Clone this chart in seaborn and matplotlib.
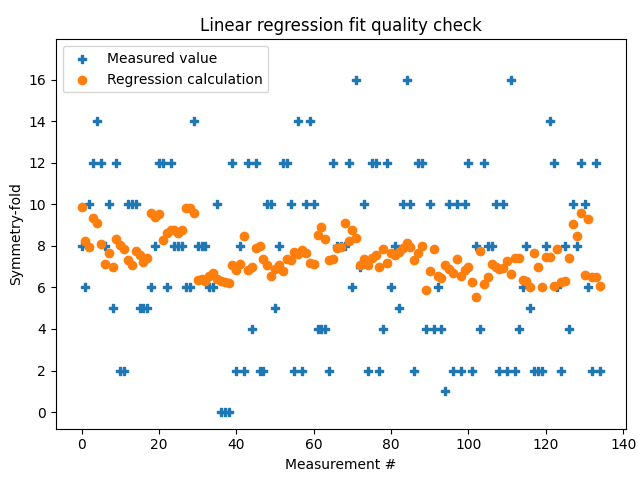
import numpy as np
import pandas as pd
import matplotlib
matplotlib.use("Agg")
import matplotlib.pyplot as plt
import seaborn as sns

# Measured symmetry-fold values, measurement 0..134
measured = [8, 6, 10, 12, 14, 12, 8, 10, 5, 12,
            2, 2, 10, 10, 10, 5, 5, 5, 6, 8,
            12, 12, 6, 12, 8, 8, 8, 6, 6, 14,
            8, 8, 8, 6, 6, 10, 0, 0, 0, 12,
            2, 8, 2, 12, 4, 12, 2, 2, 10, 10,
            5, 8, 12, 12, 10, 2, 14, 2, 10, 14,
            10, 4, 4, 4, 2, 12, 8, 8, 8, 12,
            6, 16, 7, 10, 2, 12, 12, 2, 4, 12,
            6, 8, 5, 10, 16, 10, 2, 12, 12, 4,
            10, 4, 6, 4, 1, 10, 2, 10, 2, 10,
            12, 2, 8, 4, 12, 8, 8, 10, 2, 10,
            2, 16, 2, 4, 6, 8, 5, 2, 2, 2,
            8, 14, 12, 6, 2, 8, 4, 10, 8, 12,
            10, 6, 2, 12, 2]

# Regression output for the same measurements
regression = [9.89, 8.23, 7.94, 9.33, 9.12, 8.07, 7.14, 7.67, 6.97, 8.34,
              8.04, 7.83, 7.30, 7.06, 7.75, 7.54, 7.22, 7.43, 9.60, 9.41,
              9.52, 8.31, 8.63, 8.75, 8.76, 8.63, 8.75, 9.84, 9.84, 9.60,
              6.38, 6.41, 6.30, 6.54, 6.70, 6.40, 6.30, 6.25, 6.20, 7.06,
              6.86, 7.15, 8.50, 6.86, 6.97, 7.88, 8.02, 7.39, 7.10, 6.54,
              6.90, 7.06, 6.78, 7.39, 7.30, 7.70, 7.59, 7.80, 7.67, 7.18,
              7.14, 8.55, 8.92, 8.34, 7.30, 7.39, 7.88, 7.94, 9.12, 8.23,
              8.75, 8.39, 7.06, 7.35, 7.10, 7.43, 7.54, 6.99, 7.86, 7.18,
              7.64, 7.54, 7.70, 7.91, 8.12, 7.96, 7.30, 7.67, 7.99, 5.86,
              6.81, 7.83, 6.54, 6.46, 7.06, 6.90, 6.70, 7.39, 6.57, 6.83,
              6.99, 6.27, 5.54, 7.78, 6.15, 6.51, 7.15, 6.99, 6.90, 6.94,
              7.26, 6.65, 7.43, 7.43, 6.35, 6.30, 6.01, 7.64, 6.99, 6.01,
              7.47, 7.47, 6.06, 7.86, 6.27, 6.30, 7.43, 9.08, 8.50, 9.60,
              6.62, 9.28, 6.51, 6.49, 6.09]

yticks = [0, 2, 4, 6, 8, 10, 12, 14, 16]

df = pd.DataFrame({"idx": np.arange(len(measured)),
                   "measured": measured,
                   "regression": regression})

fig, ax = plt.subplots(figsize=(6.4, 4.8), dpi=100)

sns.scatterplot(data=df, x="idx", y="measured", marker="P", s=36,
                color="C0", edgecolor="C0", linewidth=1,
                label="Measured value", ax=ax)
sns.scatterplot(data=df, x="idx", y="regression", marker="o", s=36,
                color="C1", edgecolor="C1", linewidth=1,
                label="Regression calculation", ax=ax)

ax.set_ylim(-0.8, 17.95)
ax.set_yticks(yticks)
ax.set_title("Linear regression fit quality check")
ax.set_xlabel("Measurement #")
ax.set_ylabel("Symmetry-fold")
ax.legend(loc="upper left")

plt.subplots_adjust(left=0.087, right=0.978, bottom=0.107, top=0.918)
plt.savefig("out.png")
